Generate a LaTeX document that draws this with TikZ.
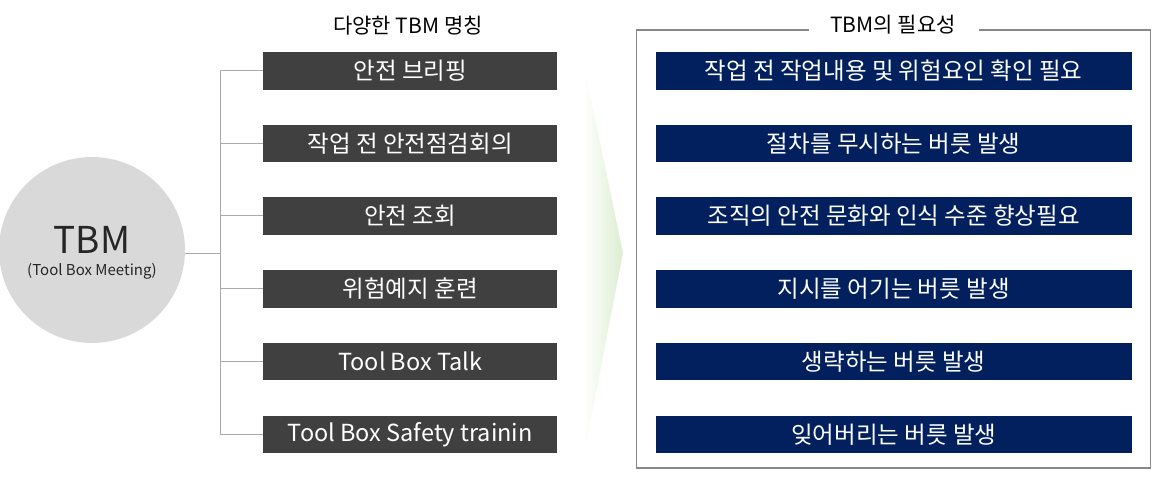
\documentclass[tikz,border=0pt]{standalone}
\usepackage{fontspec}
\setmainfont{Noto Sans CJK KR}
\definecolor{boxgray}{HTML}{404040}
\definecolor{navy}{HTML}{02205E}
\definecolor{circgray}{HTML}{D9D9D9}
\definecolor{linegray}{HTML}{AAAAAA}
\definecolor{framegray}{HTML}{888888}
\definecolor{arrowgreen}{HTML}{DCEDD2}
\begin{document}
\begin{tikzpicture}[x=1pt,y=-1pt,
  leftbox/.style={fill=boxgray,text=white,minimum width=294pt,minimum height=37.5pt,inner sep=0pt,font=\fontsize{23.5}{26}\selectfont,anchor=west},
  rightbox/.style={fill=navy,text=white,minimum width=476pt,minimum height=37.5pt,inner sep=0pt,font=\fontsize{23.5}{26}\selectfont,anchor=west},
  conn/.style={draw=linegray,line width=1pt},
  title/.style={font=\fontsize{21}{24}\selectfont,text=black}]
\useasboundingbox (0,0) rectangle (1159,478);
% arrow
\shade[left color=white,right color=arrowgreen] (583,60) -- (623,253) -- (583,460) -- cycle;
% circle
\node[circle,fill=circgray,minimum size=186pt,inner sep=0pt] (tbm) at (92,250) {};
\node[font=\fontsize{37}{40}\selectfont,text=black!85] (tbmt) at (92,240) {TBM};
\node[font=\fontsize{15}{17}\selectfont,text=black!85] (tbms) at (92,271) {(Tool Box Meeting)};
% left boxes
\node[leftbox] (l1) at (263,70.8) {안전 브리핑};
\node[leftbox] (l2) at (263,143.5) {작업 전 안전점검회의};
\node[leftbox] (l3) at (263,216) {안전 조회};
\node[leftbox] (l4) at (263,289) {위험예지 훈련};
\node[leftbox] (l5) at (263,361.5) {Tool Box Talk};
\node[leftbox] (l6) at (263,434.3) {Tool Box Safety trainin};
% connectors
\coordinate (trunk) at (220.5,253.3);
\draw[conn] (tbm.east |- trunk) -- (trunk);
\draw[conn] (l1.west) -| (trunk) |- (l6.west);
\foreach \n in {l2,l3,l4,l5} \draw[conn] (\n.west) -- (trunk |- \n.west);
% titles
\node[title] (t1) at (408,26) {다양한 TBM 명칭};
\node[title] (t2) at (893,25) {TBM의 필요성};
% frame
\draw[framegray,line width=1.3pt] (809,30) -- (636.5,30) -- (636.5,468) -- (1150.5,468) -- (1150.5,30) -- (979,30);
% right boxes
\node[rightbox] (r1) at (655.5,70.8) {작업 전 작업내용 및 위험요인 확인 필요};
\node[rightbox] (r2) at (655.5,143.5) {절차를 무시하는 버릇 발생};
\node[rightbox] (r3) at (655.5,216) {조직의 안전 문화와 인식 수준 향상필요};
\node[rightbox] (r4) at (655.5,289) {지시를 어기는 버릇 발생};
\node[rightbox] (r5) at (655.5,361.5) {생략하는 버릇 발생};
\node[rightbox] (r6) at (655.5,434.3) {잊어버리는 버릇 발생};
\end{tikzpicture}
\end{document}
